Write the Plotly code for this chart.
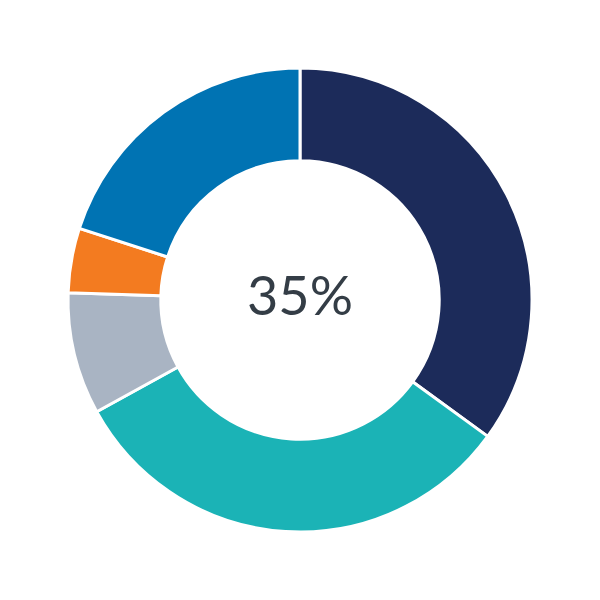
import plotly.graph_objs as go

labels = ["Navy", "Teal", "Gray", "Orange", "Blue"]
values = [35, 32, 8.5, 4.5, 20]
colors = ["#1c2b5a", "#1bb3b6", "#a9b4c3", "#f37b20", "#0073b3"]
center_text = "35%"

fig = go.Figure()
fig.add_trace(go.Pie(labels=labels, values=values, hole=0.6, sort=False,
                     direction="clockwise", rotation=0,
                     marker=dict(colors=colors, line=dict(color="white", width=3)),
                     textinfo="none", hoverinfo="label+percent"))

# page body adds ~8px offset, so shift the margins to keep the ring centred
fig.add_annotation(text=center_text, x=0.5, y=0.5, xref="paper", yref="paper",
                   yshift=6, showarrow=False,
                   font=dict(family="Lato", size=54, color="#343d46"))

fig.update_layout(width=600, height=600, showlegend=False,
                  margin=dict(l=60, r=76, t=60, b=76),
                  paper_bgcolor="white", plot_bgcolor="white")

fig.write_html("out.html")
